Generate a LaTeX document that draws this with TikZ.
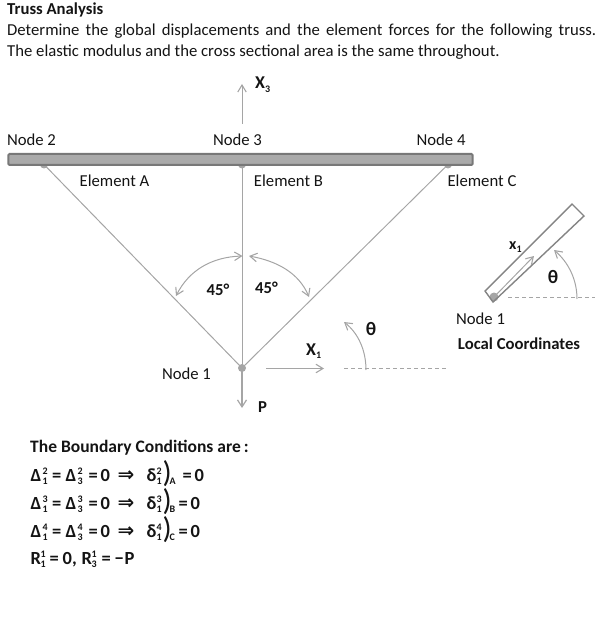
\documentclass[tikz,border=0pt]{standalone}
\usepackage{fontspec}
\setmainfont{Carlito}
\newfontfamily\djvfont{DejaVu Sans}
\usetikzlibrary{arrows.meta}
\definecolor{ln}{RGB}{165,165,165}
\definecolor{beamfill}{RGB}{170,170,170}
\definecolor{beamedge}{RGB}{120,120,120}
\definecolor{ink}{RGB}{20,20,20}
\newcommand{\fsz}{\fontsize{16.7bp}{20bp}\selectfont}
\newcommand{\eqsz}{\fontsize{18.5bp}{20bp}\selectfont}
\newcommand{\scsz}{\fontsize{10bp}{10bp}\selectfont}
% place material at an absolute offset in a line
\newcommand{\putat}[2]{\rlap{\hspace{#1bp}#2}}
\newcommand{\stk}[2]{\rlap{\raisebox{6.5bp}{\scsz #1}}\raisebox{-3.5bp}{\scsz #2}}
\newcommand{\sbs}[1]{\raisebox{-3.5bp}{\scsz #1}}
\newcommand{\bigp}{\raisebox{-1bp}{\fontsize{30bp}{30bp}\fontseries{m}\selectfont )}}
\newcommand{\bcline}[4]{\eqsz\putat{0}{Δ}\putat{12}{\stk{#1}{1}}\putat{21.5}{=}\putat{35}{Δ}\putat{47}{\stk{#1}{3}}\putat{58}{=}\putat{70}{0}\putat{87}{\djvfont\fontsize{20bp}{20bp}\selectfont ⇒}\putat{116}{δ}\putat{126}{\stk{#1}{1}}\putat{132}{\bigp}\putat{139}{\sbs{#2}}\putat{#3}{=}\putat{#4}{0}}
\tikzset{
  x=1bp,y=-1bp,
  lbl/.style={inner sep=0pt,text=ink,font=\fsz},
  blbl/.style={lbl,font=\fsz\bfseries},
  txt/.style={lbl,anchor=base west},
  btxt/.style={blbl,anchor=base west},
  member/.style={draw=ln,line width=1bp},
  arr/.style={draw=ln,line width=1bp,-{Straight Barb[length=7bp,width=8.5bp,line width=1.1bp]}},
  darr/.style={draw=ln,line width=1bp,{Straight Barb[length=7bp,width=8.5bp,line width=1.1bp]}-{Straight Barb[length=7bp,width=8.5bp,line width=1.1bp]}},
  dashline/.style={draw=ln,line width=1bp,dash pattern=on 4bp off 3bp},
  jointdot/.style={circle,fill=ln,inner sep=0pt,minimum size=8bp},
}
\begin{document}
\begin{tikzpicture}
\useasboundingbox (0,0) rectangle (604,620);
% heading
\node[btxt] (title) at (7,14.5) {Truss Analysis};
\node[txt] (line1) at (7,36) {\hbox to 589bp{Determine the global displacements and the element forces for the following truss.}};
\node[txt] (line2) at (7,57) {The elastic modulus and the cross sectional area is the same throughout.};
% joints under the beam
\node[jointdot] (n2) at (44,164.5) {};
\node[jointdot] (n3) at (242,164.5) {};
\node[jointdot] (n4) at (448,164.5) {};
\coordinate (n1) at (242,368);
\draw[member] (n2.center) -- (n1);
\draw[member] (n3.center) -- (n1);
\draw[member] (n4.center) -- (n1);
% beam
\node[draw=beamedge,fill=beamfill,line width=2bp,rounded corners=1bp,minimum width=464bp,minimum height=11bp,inner sep=0pt] (beam) at (240.5,159.5) {};
% node 1 and load
\coordinate (ptip) at (242,408);
\draw[draw=ln,line width=2bp,-{Straight Barb[length=7bp,width=9bp,line width=1.2bp]}] (n1) -- (ptip);
\node[jointdot] (n1dot) at (n1) {};
% global axes
\coordinate (x3a) at (242,124); \coordinate (x3b) at (242,84);
\draw[arr] (x3a) -- (x3b);
\coordinate (x1a) at (266,368.5); \coordinate (x1b) at (324,368.5);
\draw[arr] (x1a) -- (x1b);
% angle arcs
\coordinate (la) at (242.5,256); \coordinate (lb) at (176,296);
\coordinate (ra) at (249,256); \coordinate (rb) at (309,297);
\draw[darr] (la) .. controls (212,257) and (189,270) .. (lb);
\draw[darr] (ra) .. controls (277,261) and (299,273) .. (rb);
% theta
\coordinate (da) at (344,368.5); \coordinate (db) at (446,368.5);
\draw[dashline] (da) -- (db);
\coordinate (ta) at (366,370); \coordinate (tb) at (344,322);
\draw[arr] (ta) .. controls (366,350) and (358,333) .. (tb);
% local coordinates bar
\node[jointdot,minimum size=9bp] (l1) at (494,297) {};
\draw[draw=ln!80!black,line width=1.4bp] (485,291) -- (572,204) -- (584,216) -- (493,302) -- cycle;
\coordinate (xb) at (534,256);
\draw[arr] (l1.center) -- (xb);
\coordinate (ea) at (508,297); \coordinate (eb) at (595,297);
\draw[dashline] (ea) -- (eb);
\coordinate (pa) at (577,299); \coordinate (pb) at (554,250);
\draw[arr] (pa) .. controls (577,279) and (568,262) .. (pb);
% labels
\node[lbl] (l2) at (31.5,140) {Node 2};
\node[lbl] (l3) at (237.5,140) {Node 3};
\node[lbl] (l4) at (441,140) {Node 4};
\node[lbl] (ea1) at (114.5,181) {Element A};
\node[lbl] (eb1) at (288.5,181) {Element B};
\node[lbl] (ec1) at (482,181) {Element C};
\node[lbl] (ln1) at (186.5,373.5) {Node 1};
\node[lbl] (ln1b) at (480.5,319) {Node 1};
\node[blbl] (lc) at (519,343.5) {Local Coordinates};
\node[blbl] (a45l) at (218,289.5) {45°};
\node[blbl] (a45r) at (266.5,287.5) {45°};
\node[blbl] (lth) at (371,329) {\fontsize{19bp}{20bp}\selectfont θ};
\node[blbl] (lth2) at (553,277.5) {\fontsize{19bp}{20bp}\selectfont θ};
\node[blbl] (lp) at (262.5,407.5) {P};
\node[btxt] (lx3) at (255,89) {\fontsize{18bp}{20bp}\selectfont X\sbs{3}};
\node[btxt] (lx1) at (306,355) {\fontsize{18bp}{20bp}\selectfont X\sbs{1}};
\node[btxt] (lx1l) at (509,249) {\fontsize{16bp}{16bp}\selectfont x\sbs{1}};
% boundary conditions
\node[btxt] (bc0) at (30,452) {\fontsize{17.5bp}{20bp}\selectfont The Boundary Conditions are\,:};
\node[btxt] (bc1) at (30,481) {\bcline{2}{A}{152}{164}};
\node[btxt] (bc2) at (30,509) {\bcline{3}{B}{148}{160}};
\node[btxt] (bc3) at (30,537) {\bcline{4}{C}{148}{160}};
\node[btxt] (bc4) at (30,564) {\eqsz\putat{0}{R}\putat{10}{\stk{1}{1}}\putat{19}{=}\putat{32}{0,}\putat{51}{R}\putat{61}{\stk{1}{3}}\putat{71}{=}\putat{84}{−}\putat{94}{P}\hspace{104bp}};
\end{tikzpicture}
\end{document}
